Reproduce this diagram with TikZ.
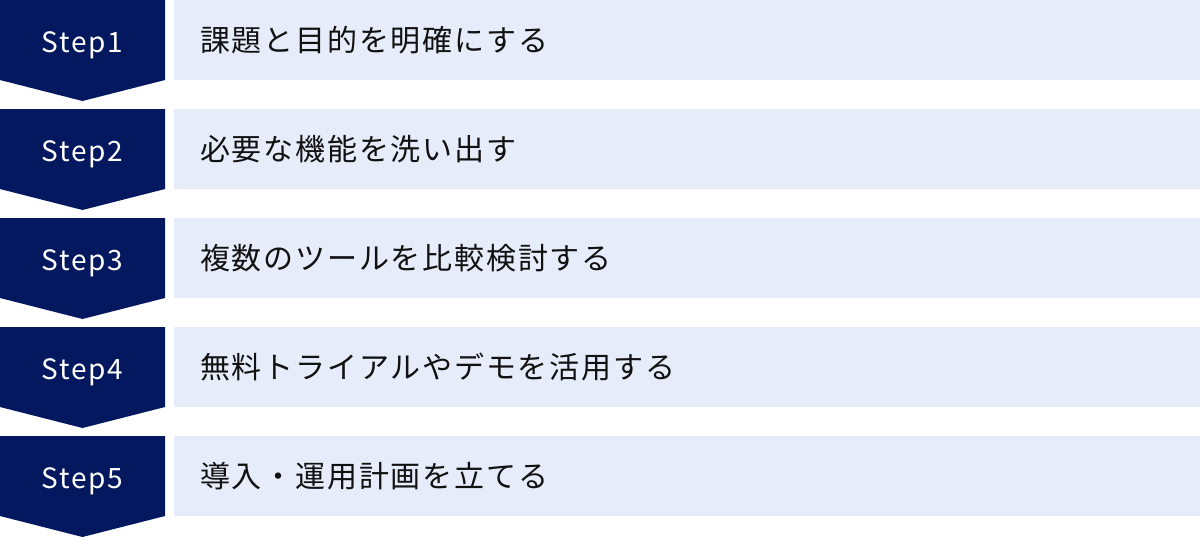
\documentclass[tikz,border=0pt]{standalone}
\usepackage{fontspec}
\setmainfont{Noto Sans CJK JP}
\newfontfamily\jpfont{Noto Sans CJK JP}
\definecolor{navy}{HTML}{04185F}
\definecolor{lightbg}{HTML}{E6ECF9}
\definecolor{txt}{HTML}{111111}
\tikzset{
  chev/.style={fill=navy},
  bar/.style={fill=lightbg},
  steplabel/.style={anchor=base, inner sep=0pt, text=white, font=\jpfont\fontsize{28}{30}\selectfont\addfontfeature{LetterSpace=6}},
  tasklabel/.style={anchor=base west, inner sep=0pt, text=txt, font=\jpfont\fontsize{30}{32}\selectfont\addfontfeature{LetterSpace=6}}
}
\begin{document}
\begin{tikzpicture}[x=1pt,y=-1pt]
\useasboundingbox (0,0) rectangle (1200,538);
\foreach \i/\t in {1/課題と目的を明確にする,2/必要な機能を洗い出す,3/複数のツールを比較検討する,4/無料トライアルやデモを活用する,5/導入・運用計画を立てる}{
  \pgfmathsetmacro{\top}{(\i-1)*109}
  \fill[chev] (0,\top) -- (165,\top) -- (165,\top+80) -- (82.5,\top+101) -- (0,\top+80) -- cycle;
  \fill[bar] (174,\top) rectangle (1200,\top+80);
  \node[steplabel] (s\i) at (82.5,\top+52.5) {Step\i};
  \node[tasklabel] (t\i) at (200,\top+51) {\t};
}
\end{tikzpicture}
\end{document}
